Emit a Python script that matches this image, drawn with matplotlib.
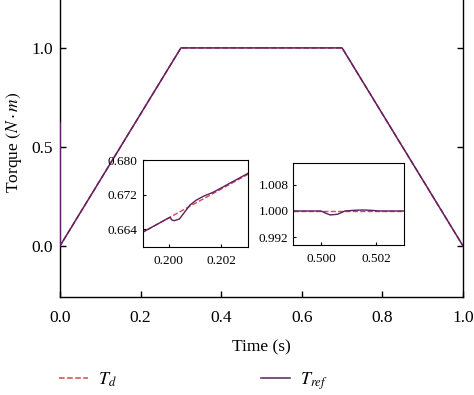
import matplotlib.pyplot as plt

# desired torque T_d
t_d = [0.0, 0.0003, 0.0006, 0.3, 0.7, 1.0]
v_d = [0.0, 0.62, 0.002, 1.0, 1.0, 0.0]

# reference torque T_ref (with small ripples near 0.2 s and 0.5 s)
t_ref = [0.0, 0.0003, 0.0006, 0.19995, 0.20005, 0.2001, 0.2002, 0.2004,
         0.20065, 0.2008, 0.20103, 0.2013, 0.2017, 0.21, 0.3,
         0.5, 0.50015, 0.50033, 0.5006, 0.50087, 0.5012, 0.5015, 0.5018,
         0.5021, 0.7, 1.0]
v_ref = [0.0, 0.62, 0.002, 0.6665, 0.6668, 0.6662, 0.6660, 0.6664,
         0.6684, 0.6696, 0.6707, 0.6716, 0.6726, 0.7, 1.0,
         1.0, 0.9994, 0.9988, 0.9990, 1.0, 1.0002, 1.0003, 1.0002,
         1.0, 1.0, 0.0]

main_xticks = [0.0, 0.2, 0.4, 0.6, 0.8, 1.0]
main_yticks = [0.0, 0.5, 1.0]
in1_xticks = [0.200, 0.202]
in1_yticks = [0.664, 0.672, 0.680]
in2_xticks = [0.500, 0.502]
in2_yticks = [0.992, 1.000, 1.008]

plt.rcParams['font.family'] = ['Liberation Serif', 'DejaVu Serif']
plt.rcParams['mathtext.fontset'] = 'stix'

red = '#d8474c'
purple = '#5e1f63'

fig = plt.figure(figsize=(4.74, 3.95), dpi=100)
ax = fig.add_axes([0.1266, 0.2481, 0.8502, 0.781])

ax.plot(t_d, v_d, '--', color=red, lw=1.1, label='$T_d$', zorder=3)
ax.plot(t_ref, v_ref, '-', color=purple, lw=1.1, label='$T_{ref}$', zorder=3)
ax.set_xlim(0, 1.0)
ax.set_ylim(-0.258, 1.3)
ax.set_xticks(main_xticks)
ax.set_xticklabels([f'{v:.1f}' for v in main_xticks])
ax.set_yticks(main_yticks)
ax.set_yticklabels([f'{v:.1f}' for v in main_yticks])
ax.tick_params(direction='in', top=True, right=True, labelsize=12.5,
               length=4, width=1, pad=5)
ax.tick_params(axis='x', pad=9)
ax.set_xlabel('Time (s)', fontsize=12.5, labelpad=10)
ax.set_ylabel(r'Torque $(N\cdot m)$', fontsize=12.5, labelpad=5)
for s in ax.spines.values():
    s.set_linewidth(1.0)

ax.legend(loc='upper left', bbox_to_anchor=(-0.02, -0.215), ncol=2,
          frameon=False, fontsize=13, columnspacing=8.0, handlelength=1.6,
          handletextpad=0.55, borderaxespad=0)

# inset near 0.2 s
ins1 = fig.add_axes([0.301, 0.3754, 0.2215, 0.2195])
ins1.plot(t_d, v_d, '--', color=red, lw=1.0)
ins1.plot(t_ref, v_ref, '-', color=purple, lw=1.0)
ins1.set_xlim(0.199, 0.203)
ins1.set_ylim(0.660, 0.680)
ins1.set_xticks(in1_xticks)
ins1.set_xticklabels([f'{v:.3f}' for v in in1_xticks])
ins1.set_yticks(in1_yticks)
ins1.set_yticklabels([f'{v:.3f}' for v in in1_yticks])
ins1.tick_params(direction='in', labelsize=9.5, length=2.5)
ins1.tick_params(axis='x', pad=6)

# inset near 0.5 s
ins2 = fig.add_axes([0.6188, 0.3797, 0.2335, 0.2084])
ins2.plot(t_d, v_d, '--', color=red, lw=1.0)
ins2.plot(t_ref, v_ref, '-', color=purple, lw=1.0)
ins2.set_xlim(0.499, 0.503)
ins2.set_ylim(0.9897, 1.0146)
ins2.set_xticks(in2_xticks)
ins2.set_xticklabels([f'{v:.3f}' for v in in2_xticks])
ins2.set_yticks(in2_yticks)
ins2.set_yticklabels([f'{v:.3f}' for v in in2_yticks])
ins2.tick_params(direction='in', labelsize=9.5, length=2.5)
ins2.tick_params(axis='x', pad=6)

plt.savefig('out.png', dpi=100)
